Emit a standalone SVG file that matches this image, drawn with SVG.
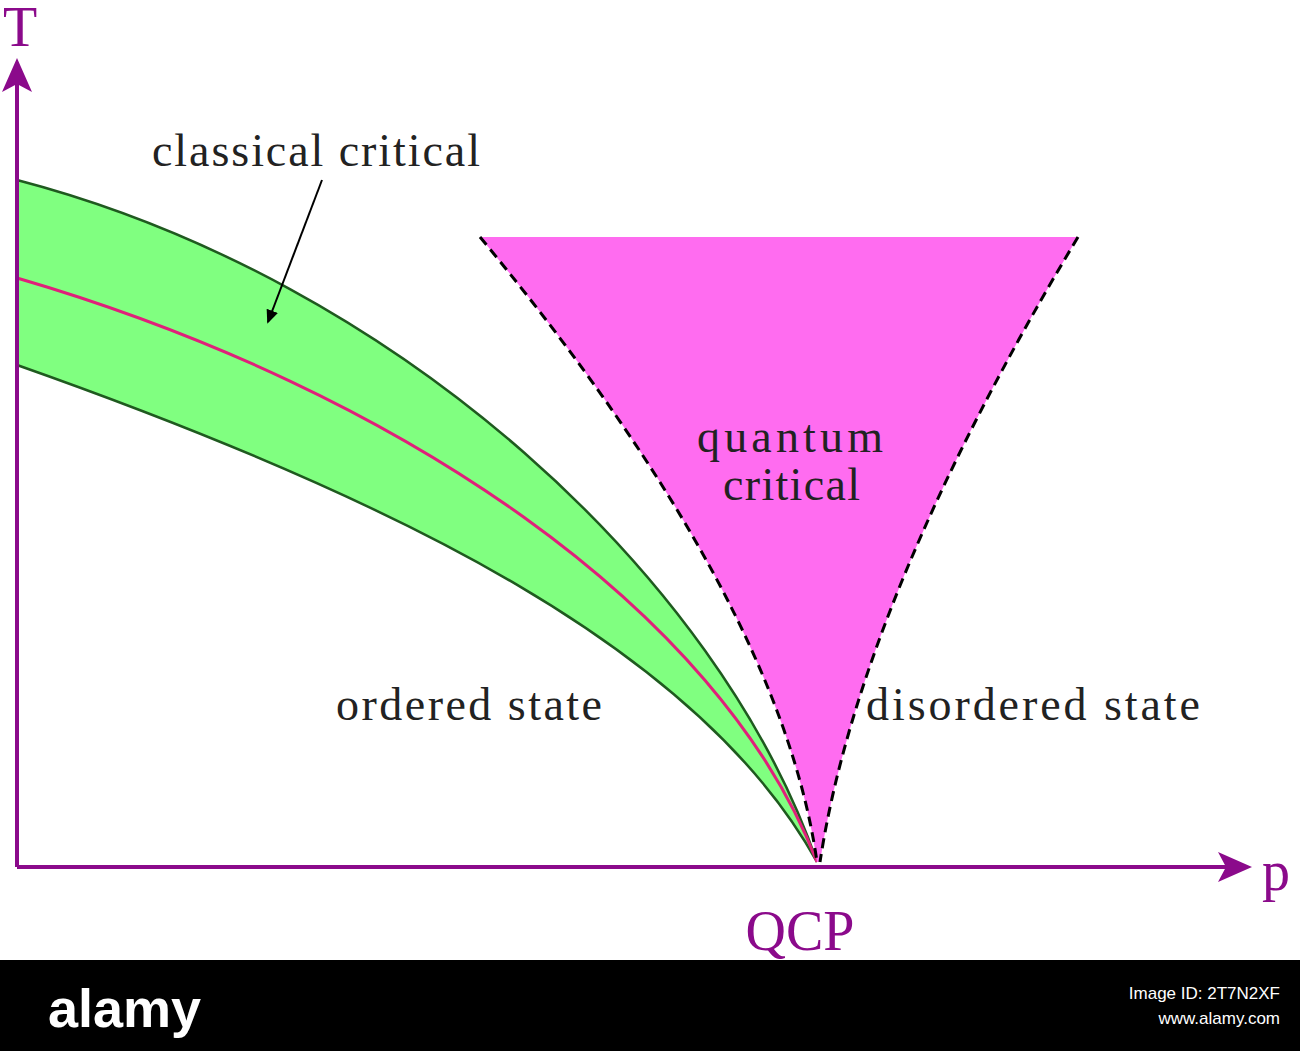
<svg xmlns="http://www.w3.org/2000/svg" width="1300" height="1051" viewBox="0 0 1300 1051">
<style>
.lbl{font-family:"Liberation Serif",serif;font-size:46px;fill:#222}
.ax{font-family:"Liberation Serif",serif;font-size:56px;fill:#8b0a8b}
</style>
<defs>
<marker id="ah" markerWidth="14" markerHeight="14" refX="12" refY="6" orient="auto" markerUnits="userSpaceOnUse"><path d="M0,0 L14,6 L0,12 z" fill="#000"/></marker>
</defs>
<rect width="1300" height="1051" fill="#fff"/>
<g id="band">
<path d="M17,180 C400,280 720,580 817,862 C700,650 400,500 17,365 Z" fill="#80ff80" stroke="#1f5a1f" stroke-width="2.5"/>
<path d="M17,278 C400,390 720,610 817,862" fill="none" stroke="#e0207a" stroke-width="3"/>
</g>
<g id="quantum">
<path d="M480,237 L1078,237 Q860,600 820,862 L817,862 Q780,600 480,237 Z" fill="#ff6cf0"/>
<path d="M480,237 Q780,600 817,862" fill="none" stroke="#000" stroke-width="3" stroke-dasharray="10,6"/>
<path d="M1078,237 Q860,600 820,862" fill="none" stroke="#000" stroke-width="3" stroke-dasharray="10,6"/>
</g>
<g id="axes" stroke="#8b0a8b" stroke-width="4" fill="#8b0a8b">
<line x1="17" y1="867" x2="17" y2="80"/>
<path d="M17,58 L32,92 L17,84 L2,92 Z" stroke="none"/>
<line x1="17" y1="867" x2="1230" y2="867"/>
<path d="M1252,867 L1218,852 L1226,867 L1218,882 Z" stroke="none"/>
</g>
<text class="ax" x="3" y="46">T</text>
<text class="ax" x="1262" y="890">p</text>
<text class="ax" x="800" y="950" text-anchor="middle">QCP</text>
<g id="connectors"><line x1="322" y1="180" x2="268" y2="322" stroke="#000" stroke-width="2" marker-end="url(#ah)"/></g>
<text class="lbl" x="152" y="166" textLength="328" lengthAdjust="spacing">classical  critical</text>
<text class="lbl" x="697" y="452" textLength="186" lengthAdjust="spacing">quantum</text>
<text class="lbl" x="723" y="500" textLength="137" lengthAdjust="spacing">critical</text>
<text class="lbl" x="336" y="720" textLength="266" lengthAdjust="spacing">ordered state</text>
<text class="lbl" x="866" y="720" textLength="334" lengthAdjust="spacing">disordered  state</text>
<rect x="0" y="960" width="1300" height="91" fill="#000"/>
<text x="48" y="1027" font-family="Liberation Sans,sans-serif" font-size="54" font-weight="bold" fill="#fff">alamy</text>
<text x="1280" y="999" text-anchor="end" font-family="Liberation Sans,sans-serif" font-size="17" fill="#fff">Image ID: 2T7N2XF</text>
<text x="1280" y="1024" text-anchor="end" font-family="Liberation Sans,sans-serif" font-size="17" fill="#fff">www.alamy.com</text>
</svg>
